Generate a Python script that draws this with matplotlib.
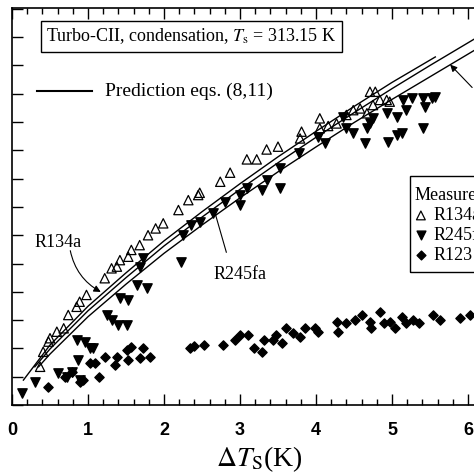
import matplotlib
matplotlib.use("Agg")
import matplotlib.pyplot as plt
from matplotlib.ticker import MultipleLocator, NullFormatter
plt.rcParams["mathtext.fontset"] = "stix"

r134a_x = [1.79,1.89,1.99,2.19,2.32,2.45,2.47,2.74,2.87,3.09,3.22,3.35,3.50,3.79,3.81,4.05,4.05,4.16,4.27,4.40,4.49,4.58,4.71,4.78,4.84,4.93,4.97,4.67,4.75,
           1.68,1.57,1.53,1.42,1.38,1.31,1.22,0.98,0.89,0.85,0.74,0.68,0.59,0.50,0.48,0.41,0.37]
r134a_y = [6.0,6.24,6.42,6.89,7.24,7.42,7.50,7.89,8.21,8.68,8.68,9.03,9.13,9.42,9.66,10.13,9.78,9.86,9.95,10.25,10.42,10.48,11.07,11.07,10.78,10.78,10.72,10.31,10.6,
           5.65,5.48,5.24,5.12,4.89,4.83,4.48,3.89,3.65,3.47,3.18,2.71,2.59,2.36,2.24,1.88,1.35]
r245fa_x = [2.25,2.36,2.47,2.65,2.80,3.0,3.0,3.09,3.29,3.35,3.53,3.53,3.77,4.03,4.12,4.36,4.40,4.49,4.64,4.67,4.71,4.75,4.93,4.95,5.06,5.13,5.06,5.15,5.26,5.19,5.41,5.43,5.41,5.52,5.57,
            1.73,1.68,1.64,1.77,1.42,1.53,1.25,1.31,1.40,1.51,0.85,0.96,1.03,1.07,0.87,0.79,0.61,0.72,0.89,0.30,0.13,2.23]
r245fa_y = [6.01,6.36,6.48,6.77,7.18,7.42,7.07,7.66,7.6,7.95,8.36,7.66,8.89,9.48,9.25,10.19,9.78,9.6,9.25,9.78,9.95,10.13,10.31,9.3,9.54,9.6,10.19,10.78,10.84,10.42,10.84,10.54,9.78,10.84,10.9,
            5.18,4.89,4.24,4.12,3.77,3.71,3.18,3.0,2.83,2.83,2.3,2.24,2.0,2.0,1.59,1.18,1.12,1.0,0.88,0.82,0.41,5.06]
r123_x = [0.48,0.70,0.79,0.89,0.94,1.03,1.09,1.14,1.22,1.36,1.38,1.51,1.53,1.57,1.68,1.73,1.82,2.34,2.39,2.52,2.78,2.93,3.0,3.11,3.18,3.29,3.31,3.44,3.48,3.55,3.61,3.70,3.79,3.86,3.99,4.03,
          4.27,4.29,4.40,4.51,4.60,4.71,4.73,4.84,4.89,4.97,5.04,5.13,5.19,5.28,5.35,5.54,5.63,5.89,6.03]
r123_y = [0.65,1.0,1.18,0.82,0.88,1.47,1.47,1.0,1.71,1.41,1.71,1.94,1.59,2.06,1.65,2.0,1.71,2.0,2.08,2.12,2.12,2.30,2.47,2.47,2.0,1.88,2.3,2.3,2.47,2.18,2.71,2.53,2.41,2.71,2.71,2.59,
          2.94,2.59,2.89,3.0,3.18,2.94,2.71,3.3,2.89,2.94,2.71,3.12,2.89,3.0,2.89,3.18,3.0,3.06,3.18]

pred1_x = [0.15,0.5,1.0,1.5,2.0,2.5,3.0,3.5,4.0,4.5,5.0,5.57]
pred1_y = [0.88,2.12,3.49,4.67,5.8,6.83,7.82,8.77,9.67,10.55,11.4,12.3]
pred2_x = [0.3,0.5,1.0,1.5,2.0,2.5,3.0,3.5,4.0,4.5,5.0,5.5,6.0,6.5]
pred2_y = [1.35,1.98,3.33,4.5,5.62,6.64,7.62,8.56,9.46,10.33,11.18,12.0,12.8,13.6]
pred3_x = [0.35,0.5,1.0,1.5,2.0,2.5,3.0,3.5,4.0,4.5,5.0,5.5,6.0,6.5]
pred3_y = [1.35,1.8,3.12,4.27,5.36,6.36,7.32,8.24,9.12,9.98,10.8,11.6,12.4,13.2]

serif = "Liberation Serif"
fig = plt.figure(figsize=(4.74, 4.74), dpi=100)
ax = fig.add_axes([12/474, 69/474, 6.5*76/474, 397/474])
ax.set_xlim(0, 6.5)
ax.set_ylim(0, 14.03)

for px, py in [(pred1_x, pred1_y), (pred2_x, pred2_y), (pred3_x, pred3_y)]:
    ax.plot(px, py, color="black", lw=1.0)
ax.scatter(r134a_x, r134a_y, marker="^", s=45, facecolors="none", edgecolors="black", linewidths=0.9)
ax.scatter(r245fa_x, r245fa_y, marker="v", s=45, color="black")
ax.scatter(r123_x, r123_y, marker="D", s=22, color="black")

ax.xaxis.set_major_locator(MultipleLocator(1))
ax.xaxis.set_minor_locator(MultipleLocator(0.2))
ax.yaxis.set_major_locator(MultipleLocator(1))
ax.yaxis.set_major_formatter(NullFormatter())
ax.tick_params(which="both", direction="in", top=True, right=True, width=1)
ax.tick_params(which="major", length=8, labelsize=13, pad=12)
ax.tick_params(which="minor", length=4)
for lbl in ax.get_xticklabels():
    lbl.set_fontfamily("Liberation Sans"); lbl.set_fontweight("bold")
for s in ax.spines.values():
    s.set_linewidth(1.2)
ax.set_xlabel(r"$\Delta T_{\mathrm{S}}$(K)", fontfamily=serif, fontsize=20, labelpad=4)

ax.text(2.36, 13.02, r"Turbo-CII, condensation, $T_{\mathrm{s}}$ = 313.15 K", fontfamily=serif, fontsize=13,
        ha="center", va="center", bbox=dict(boxstyle="square,pad=0.3", fc="white", ec="black", lw=1))
ax.plot([0.33, 1.05], [11.1, 11.1], color="black", lw=1.5)
ax.text(1.22, 11.1, "Prediction eqs. (8,11)", fontfamily=serif, fontsize=14, va="center")

ax.text(0.3, 5.74, "R134a", fontfamily=serif, fontsize=13, va="center")
ax.annotate("", xy=(1.2, 3.95), xytext=(0.76, 5.55),
            arrowprops=dict(arrowstyle="-|>", color="black", lw=0.8, connectionstyle="arc3,rad=0.25"))
ax.text(2.65, 4.6, "R245fa", fontfamily=serif, fontsize=13, va="center")
ax.plot([2.82, 2.67], [5.4, 6.8], color="black", lw=0.8)
ax.annotate("", xy=(5.74, 12.1), xytext=(6.08, 11.15),
            arrowprops=dict(arrowstyle="-|>", color="black", lw=0.8))

ax.add_patch(plt.Rectangle((5.24, 4.7), 2.0, 3.4, fill=False, ec="black", lw=1))
ax.text(5.3, 7.4, "Measured", fontfamily=serif, fontsize=13, va="center")
ax.scatter([5.38], [6.7], marker="^", s=40, facecolors="none", edgecolors="black", linewidths=0.9)
ax.text(5.55, 6.7, "R134a", fontfamily=serif, fontsize=13, va="center")
ax.scatter([5.38], [6.0], marker="v", s=40, color="black")
ax.text(5.55, 6.0, "R245fa", fontfamily=serif, fontsize=13, va="center")
ax.scatter([5.38], [5.3], marker="D", s=20, color="black")
ax.text(5.55, 5.3, "R123", fontfamily=serif, fontsize=13, va="center")

fig.savefig("out.png", dpi=100)
